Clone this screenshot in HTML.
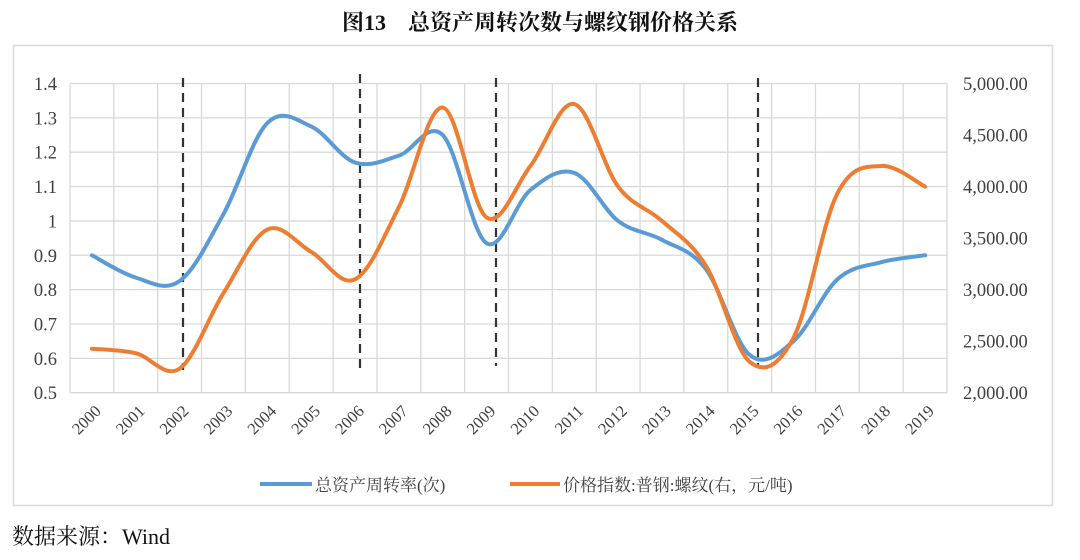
<!DOCTYPE html>
<html><head><meta charset="utf-8"><style>
body{margin:0;background:#fff;width:1080px;height:555px;overflow:hidden;font-family:"Liberation Serif","Noto Serif CJK SC",serif;}
</style></head><body>
<svg id="s" width="1080" height="555" xmlns="http://www.w3.org/2000/svg">
<text x="540" y="30" text-anchor="middle" font-size="22" font-weight="bold" font-family="Liberation Serif,Noto Serif CJK SC,serif" fill="#111">图13　总资产周转次数与螺纹钢价格关系</text>
<rect x="13.5" y="45.5" width="1039" height="460" fill="none" stroke="#d9d9d9" stroke-width="1.5"/>
<g id="g"></g>
<text x="315" y="491" font-size="17" fill="#404040" font-family="Liberation Serif,Noto Serif CJK SC,serif">总资产周转率(次)</text>
<line x1="260" y1="484" x2="312" y2="484" stroke="#5b9bd5" stroke-width="4"/>
<line x1="510" y1="484" x2="560" y2="484" stroke="#ed7d31" stroke-width="4"/>
<text x="563" y="491" font-size="17" fill="#404040" font-family="Liberation Serif,Noto Serif CJK SC,serif">价格指数:普钢:螺纹(右，元/吨)</text>
<text x="12" y="544" font-size="22" fill="#111" font-family="Liberation Serif,Noto Serif CJK SC,serif">数据来源：Wind</text>
</svg>
<script>
var g=document.getElementById('g'),h='';
var L=70,R=947,T=83.5,B=392.7,cw=(R-L)/20,rh=(B-T)/9;
for(var i=0;i<=20;i++){var x=L+i*cw;h+='<line x1="'+x+'" y1="'+T+'" x2="'+x+'" y2="'+B+'" stroke="#d9d9d9" stroke-width="1.3"/>';}
for(var j=0;j<=9;j++){var y=T+j*rh;h+='<line x1="'+L+'" y1="'+y+'" x2="'+R+'" y2="'+y+'" stroke="#d9d9d9" stroke-width="1.3"/>';
var lv=(1.4-j*0.1);var ls=(Math.abs(lv-1)<1e-6)?'1':lv.toFixed(1);
h+='<text x="57" y="'+(y+6.5)+'" text-anchor="end" font-size="18.5" fill="#404040">'+ls+'</text>';}
var rl=['5,000.00','4,500.00','4,000.00','3,500.00','3,000.00','2,500.00','2,000.00'];
for(var k=0;k<7;k++){var y=T+k*(B-T)/6;h+='<text x="963" y="'+(y+6.5)+'" font-size="18.5" fill="#404040">'+rl[k]+'</text>';}
for(var i=0;i<20;i++){var x=L+(i+0.5)*cw;h+='<text transform="translate('+(x+10)+',412) rotate(-45)" text-anchor="end" font-size="16.5" fill="#404040">'+(2000+i)+'</text>';}
var dl=[[183,78,370],[360,74,370],[496,78,366],[758,78,366]];
dl.forEach(function(d){h+='<line x1="'+d[0]+'" y1="'+d[1]+'" x2="'+d[0]+'" y2="'+d[2]+'" stroke="#333" stroke-width="2.2" stroke-dasharray="9,6"/>';});
var blue=[0.9,0.835,0.825,1.02,1.285,1.275,1.17,1.19,1.25,0.935,1.09,1.14,1.0,0.945,0.86,0.61,0.65,0.83,0.88,0.9];
var org=[0.628,0.615,0.57,0.79,0.975,0.91,0.83,1.04,1.33,1.01,1.16,1.34,1.1,1.0,0.87,0.59,0.66,1.08,1.16,1.1];
function path(v,c){var p=v.map(function(a,i){return [L+(i+0.5)*cw,B-(a-0.5)*rh*10];});
var d='M'+p[0][0]+','+p[0][1];
for(var i=0;i<p.length-1;i++){var p0=p[i-1]||p[i],p1=p[i],p2=p[i+1],p3=p[i+2]||p2;var t=0.17;
d+=' C'+(p1[0]+(p2[0]-p0[0])*t)+','+(p1[1]+(p2[1]-p0[1])*t)+' '+(p2[0]-(p3[0]-p1[0])*t)+','+(p2[1]-(p3[1]-p1[1])*t)+' '+p2[0]+','+p2[1];}
return '<path d="'+d+'" fill="none" stroke="'+c+'" stroke-width="4" stroke-linecap="round"/>';}
h+=path(blue,'#5b9bd5')+path(org,'#ed7d31');
g.innerHTML=h;
g.setAttribute('font-family','Liberation Serif,serif');
</script>
</body></html>
